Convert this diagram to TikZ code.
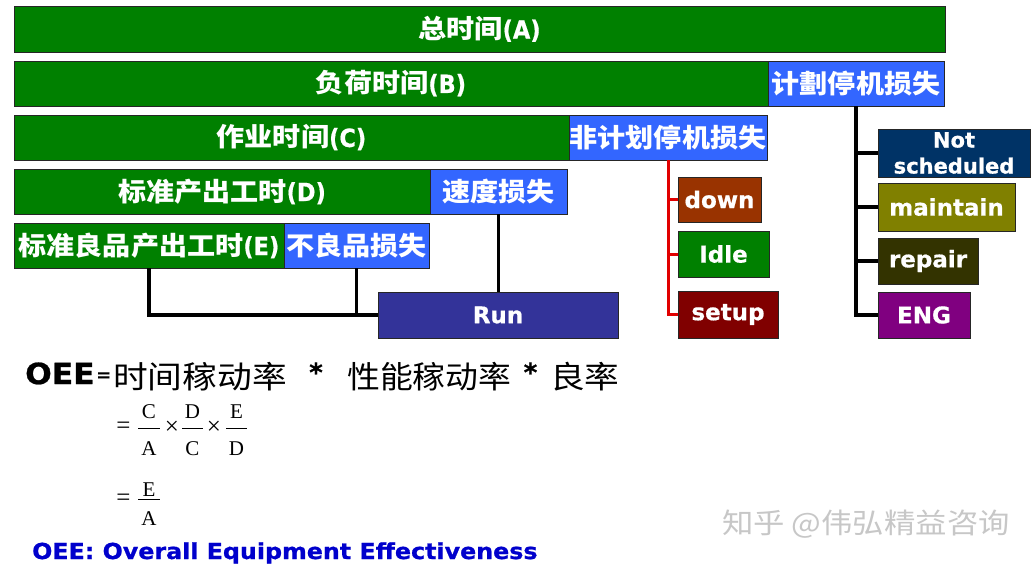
\documentclass[tikz,border=0pt]{standalone}
\usepackage{fontspec}
\newfontfamily\blkfam{DejaVu Sans}[FakeBold=0.6]
\newfontfamily\blkwfam{DejaVu Sans}[FakeStretch=1.08,FakeBold=0.8]
\newfontfamily\blknfam{DejaVu Sans}[FakeStretch=0.9,FakeBold=0.6]
\newfontfamily\cjkbfam{Noto Sans CJK SC}[FakeStretch=1.08]
\newfontfamily\cjkrfam{Noto Sans CJK SC}[FakeStretch=1.12]
\newfontfamily\cjknfam{Noto Sans CJK SC}[FakeStretch=1.06]
\newfontfamily\tmsfam{Liberation Serif}
\newcommand\zhb[1]{{\cjkbfam\bfseries\fontsize{26}{30}\selectfont #1}}
\newcommand\enb[1]{{\blknfam\bfseries\fontsize{25}{28}\selectfont #1}}
\definecolor{cgreen}{RGB}{0,128,0}
\definecolor{cblue}{RGB}{51,102,255}
\definecolor{crun}{RGB}{51,51,153}
\definecolor{cdown}{RGB}{153,51,0}
\definecolor{csetup}{RGB}{128,0,0}
\definecolor{cnot}{RGB}{0,51,102}
\definecolor{cmaint}{RGB}{128,128,0}
\definecolor{crepair}{RGB}{51,51,0}
\definecolor{ceng}{RGB}{128,0,128}
\definecolor{cred}{RGB}{225,0,0}
\definecolor{cnavy}{RGB}{0,0,204}
\begin{document}
\begin{tikzpicture}[x=1pt,y=-1pt,
  box/.style={draw=black!85,line width=0.7pt,inner sep=0pt,text=white,align=center},
  word/.style={box,font=\blkfam\bfseries\fontsize{23}{26}\selectfont},
  kline/.style={line width=3.5pt,black},
  rline/.style={line width=3pt,cred},
  frac/.style={font=\tmsfam\fontsize{21}{24}\selectfont,inner sep=0pt,anchor=base},
  sym/.style={font=\tmsfam\fontsize{25}{28}\selectfont,inner sep=0pt},
  fbar/.style={line width=0.9pt,black}]
\useasboundingbox (0,0) rectangle (1036,567);
\fill[white] (0,0) rectangle (1036,567);

% rows
\node[box,fill=cgreen,minimum width=931pt,minimum height=46pt] (A) at (479.5,29) {\zhb{总时间}\enb{(A)}};
\node[box,fill=cgreen,minimum width=754pt,minimum height=45pt] (B) at (391,83.5) {\zhb{负荷时间}\enb{(B)}};
\node[box,fill=cblue,minimum width=176pt,minimum height=45pt] (Bl) at (856,83.5) {\zhb{计劃停机损失}};
\node[box,fill=cgreen,minimum width=555pt,minimum height=45pt] (C) at (291.5,137.5) {\zhb{作业时间}\enb{(C)}};
\node[box,fill=cblue,minimum width=198pt,minimum height=45pt] (Cl) at (668,137.5) {\zhb{非计划停机损失}};
\node[box,fill=cgreen,minimum width=416pt,minimum height=45pt] (D) at (222,191.5) {\zhb{标准产出工时}\enb{(D)}};
\node[box,fill=cblue,minimum width=137pt,minimum height=45pt] (Dl) at (498.5,191.5) {\zhb{速度损失}};
\node[box,fill=cgreen,minimum width=270pt,minimum height=45pt] (E) at (149,245.5) {\zhb{标准良品产出工时}\enb{(E)}};
\node[box,fill=cblue,minimum width=145pt,minimum height=45pt] (El) at (356.5,245.5) {\zhb{不良品损失}};
\node[word,fill=crun,minimum width=240pt,minimum height=46pt] (Run) at (498,315) {Run};

% unplanned losses
\node[word,fill=cdown,minimum width=83pt,minimum height=45pt] (down) at (719.5,199.5) {down};
\node[word,fill=cgreen,minimum width=91pt,minimum height=46pt] (idle) at (723.5,254) {Idle};
\node[word,fill=csetup,minimum width=100pt,minimum height=47pt] (setup) at (728,314.5) {setup};

% planned losses
\node[box,fill=cnot,minimum width=152pt,minimum height=48pt,font=\blkfam\bfseries\fontsize{21}{26}\selectfont] (nots) at (954,153) {Not\\scheduled};
\node[word,fill=cmaint,minimum width=137pt,minimum height=48pt] (maint) at (946.5,207) {maintain};
\node[word,fill=crepair,minimum width=100pt,minimum height=46pt] (repair) at (928,261) {repair};
\node[word,fill=ceng,minimum width=92pt,minimum height=46pt] (eng) at (924,315) {ENG};

% connectors
\draw[rline] (Cl.south) |- (down.west);
\draw[rline] (Cl.south) |- (idle.west);
\draw[rline] (Cl.south) |- (setup.west);
\draw[kline] (Bl.south) |- (nots.west);
\draw[kline] (Bl.south) |- (maint.west);
\draw[kline] (Bl.south) |- (repair.west);
\draw[kline] (Bl.south) |- (eng.west);
\draw[kline] (E.south) |- (Run.west);
\draw[kline] (El.south) |- (Run.west);
\draw[kline] (Dl.south) -- (Dl.south |- Run.north);

% OEE line
\node[anchor=base west,inner sep=0pt,font=\blkwfam\bfseries\fontsize{29}{32}\selectfont] (oee) at (25,384) {OEE};
\node[anchor=base west,inner sep=0pt,font=\blkfam\bfseries\fontsize{18}{32}\selectfont] (oeq) at (96,381) {=};
\node[anchor=west,inner sep=0pt,font=\cjkrfam\fontsize{31}{34}\selectfont] (t1) at (113,376.5) {时间稼动率};
\node[inner sep=0pt,font=\blkfam\bfseries\fontsize{26}{30}\selectfont] (s1) at (316,372) {*};
\node[anchor=west,inner sep=0pt,font=\cjknfam\fontsize{31}{34}\selectfont] (t2) at (347,376.5) {性能稼动率};
\node[inner sep=0pt,font=\blkfam\bfseries\fontsize{26}{30}\selectfont] (s2) at (530.5,372) {*};
\node[anchor=west,inner sep=0pt,font=\cjkrfam\fontsize{31}{34}\selectfont] (t3) at (550,376.5) {良率};

% formula 1
\node[sym] (eq1) at (123.5,428) {=};
\node[frac] (n1) at (149,418) {C};
\node[frac] (d1) at (149,455) {A};
\draw[fbar] (138,428) -- (160,428);
\node[sym] (x1) at (172,428) {×};
\node[frac] (n2) at (192.5,418) {D};
\node[frac] (d2) at (192.5,455) {C};
\draw[fbar] (182,428) -- (203,428);
\node[sym] (x2) at (214,428) {×};
\node[frac] (n3) at (236.5,418) {E};
\node[frac] (d3) at (236.5,455) {D};
\draw[fbar] (226,428) -- (247,428);

% formula 2
\node[sym] (eq2) at (123.5,500) {=};
\node[frac] (n4) at (149,496) {E};
\node[frac] (d4) at (149,525) {A};
\draw[fbar] (138,499) -- (160,499);

% footer
\node[anchor=base west,inner sep=0pt,text=cnavy,font=\blkwfam\bfseries\fontsize{22}{26}\selectfont] (full) at (32,559) {OEE: Overall Equipment Effectiveness};

% watermark
\node[inner sep=0pt,text=black!22,font=\cjkrfam\fontsize{28}{32}\selectfont] (wm) at (866,524) {知乎 @伟弘精益咨询};
\end{tikzpicture}
\end{document}
